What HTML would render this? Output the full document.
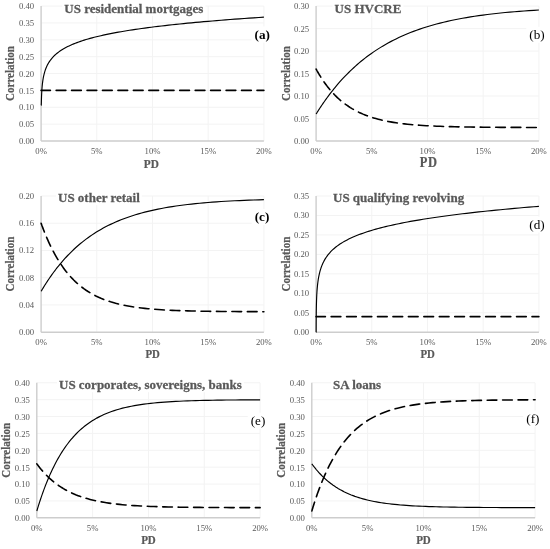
<!DOCTYPE html>
<html><head><meta charset="utf-8"><title>Correlation vs PD</title>
<style>html,body{margin:0;padding:0;background:#fff}svg{display:block}text{font-family:"Liberation Serif",serif}.tk{font-size:8.7px;fill:#595959}.ti{font-size:13px;font-weight:bold;fill:#595959;stroke:#595959;stroke-width:0.25px}.al{font-size:11px;font-weight:bold;fill:#595959;stroke:#595959;stroke-width:0.2px}.lb{font-size:13.2px;fill:#000}</style></head><body>
<svg width="550" height="549" viewBox="0 0 550 549">
<rect width="550" height="549" fill="#fff"/>
<g id="panel-a">
<line x1="41.10" y1="124.14" x2="263.90" y2="124.14" stroke="#f3f3f3" stroke-width="1"/>
<line x1="41.10" y1="107.28" x2="263.90" y2="107.28" stroke="#f3f3f3" stroke-width="1"/>
<line x1="41.10" y1="90.41" x2="263.90" y2="90.41" stroke="#f3f3f3" stroke-width="1"/>
<line x1="41.10" y1="73.55" x2="263.90" y2="73.55" stroke="#f3f3f3" stroke-width="1"/>
<line x1="41.10" y1="56.69" x2="263.90" y2="56.69" stroke="#f3f3f3" stroke-width="1"/>
<line x1="41.10" y1="39.82" x2="263.90" y2="39.82" stroke="#f3f3f3" stroke-width="1"/>
<line x1="41.10" y1="22.96" x2="263.90" y2="22.96" stroke="#f3f3f3" stroke-width="1"/>
<line x1="41.10" y1="6.10" x2="263.90" y2="6.10" stroke="#f3f3f3" stroke-width="1"/>
<line x1="96.80" y1="6.10" x2="96.80" y2="141.00" stroke="#f3f3f3" stroke-width="1"/>
<line x1="152.50" y1="6.10" x2="152.50" y2="141.00" stroke="#f3f3f3" stroke-width="1"/>
<line x1="208.20" y1="6.10" x2="208.20" y2="141.00" stroke="#f3f3f3" stroke-width="1"/>
<line x1="263.90" y1="6.10" x2="263.90" y2="141.00" stroke="#f3f3f3" stroke-width="1"/>
<line x1="41.10" y1="6.10" x2="41.10" y2="141.00" stroke="#cdcdcd" stroke-width="1.4"/>
<line x1="41.10" y1="141.00" x2="263.90" y2="141.00" stroke="#cdcdcd" stroke-width="1.4"/>
<text class="tk" x="34.20" y="144.10" text-anchor="end">0.00</text>
<text class="tk" x="34.20" y="127.24" text-anchor="end">0.05</text>
<text class="tk" x="34.20" y="110.38" text-anchor="end">0.10</text>
<text class="tk" x="34.20" y="93.51" text-anchor="end">0.15</text>
<text class="tk" x="34.20" y="76.65" text-anchor="end">0.20</text>
<text class="tk" x="34.20" y="59.79" text-anchor="end">0.25</text>
<text class="tk" x="34.20" y="42.92" text-anchor="end">0.30</text>
<text class="tk" x="34.20" y="26.06" text-anchor="end">0.35</text>
<text class="tk" x="34.20" y="9.20" text-anchor="end">0.40</text>
<text class="tk" x="41.10" y="153.75" text-anchor="middle">0%</text>
<text class="tk" x="96.80" y="153.75" text-anchor="middle">5%</text>
<text class="tk" x="152.50" y="153.75" text-anchor="middle">10%</text>
<text class="tk" x="208.20" y="153.75" text-anchor="middle">15%</text>
<text class="tk" x="263.90" y="153.75" text-anchor="middle">20%</text>
<rect x="251.5" y="26.5" width="22" height="16" fill="#fff"/>
<rect x="62.3" y="3.0" width="143.1" height="13" fill="#fff"/>
<text class="ti" transform="translate(64.30,12.80) scale(1,1.03)">US residential mortgages</text>
<text class="al" transform="translate(151.30,167.60) scale(1,1.12)" text-anchor="middle" style="font-size:11.3px;letter-spacing:0px">PD</text>
<text class="al" transform="translate(14.30,73.55) rotate(-90) scale(1,1.12)" text-anchor="middle">Correlation</text>
<path d="M41.10,105.25 L41.10,105.25 L41.11,105.25 L41.13,105.25 L41.16,105.25 L41.20,105.25 L41.25,105.25 L41.33,103.37 L41.42,99.77 L41.53,96.54 L41.66,93.62 L41.80,90.95 L41.98,88.48 L42.17,86.20 L42.39,84.06 L42.63,82.06 L42.90,80.17 L43.19,78.38 L43.51,76.69 L43.86,75.08 L44.24,73.54 L44.65,72.07 L45.09,70.66 L45.55,69.30 L46.05,68.00 L46.59,66.74 L47.15,65.53 L47.75,64.36 L48.38,63.23 L49.05,62.13 L49.75,61.07 L50.49,60.03 L51.27,59.03 L52.08,58.05 L52.93,57.10 L53.82,56.18 L54.75,55.27 L55.72,54.39 L56.73,53.54 L57.78,52.70 L58.87,51.88 L60.00,51.07 L61.17,50.29 L62.39,49.52 L63.65,48.77 L64.95,48.03 L66.30,47.30 L67.69,46.60 L69.12,45.90 L70.61,45.22 L72.14,44.54 L73.71,43.89 L75.33,43.24 L77.00,42.60 L78.72,41.97 L80.49,41.36 L82.30,40.75 L84.16,40.16 L86.08,39.57 L88.04,38.99 L90.06,38.42 L92.12,37.86 L94.24,37.31 L96.41,36.76 L98.63,36.22 L100.90,35.69 L103.23,35.17 L105.61,34.65 L108.04,34.15 L110.53,33.64 L113.07,33.15 L115.67,32.66 L118.33,32.17 L121.04,31.70 L123.80,31.22 L126.62,30.76 L129.50,30.30 L132.44,29.84 L135.43,29.39 L138.49,28.95 L141.60,28.51 L144.77,28.07 L148.00,27.64 L151.29,27.22 L154.64,26.79 L158.04,26.38 L161.51,25.96 L165.05,25.56 L168.64,25.15 L172.29,24.75 L176.01,24.36 L179.79,23.96 L183.63,23.58 L187.53,23.19 L191.50,22.81 L195.53,22.43 L199.63,22.06 L203.79,21.69 L208.02,21.32 L212.31,20.96 L216.66,20.60 L221.09,20.24 L225.57,19.89 L230.13,19.54 L234.75,19.19 L239.44,18.84 L244.19,18.50 L249.02,18.16 L253.91,17.83 L258.87,17.49 L263.90,17.16" fill="none" stroke="#000" stroke-width="1.15" stroke-linejoin="round"/>
<path d="M41.10,90.41 L41.10,90.41 L41.11,90.41 L41.13,90.41 L41.16,90.41 L41.20,90.41 L41.25,90.41 L41.33,90.41 L41.42,90.41 L41.53,90.41 L41.66,90.41 L41.80,90.41 L41.98,90.41 L42.17,90.41 L42.39,90.41 L42.63,90.41 L42.90,90.41 L43.19,90.41 L43.51,90.41 L43.86,90.41 L44.24,90.41 L44.65,90.41 L45.09,90.41 L45.55,90.41 L46.05,90.41 L46.59,90.41 L47.15,90.41 L47.75,90.41 L48.38,90.41 L49.05,90.41 L49.75,90.41 L50.49,90.41 L51.27,90.41 L52.08,90.41 L52.93,90.41 L53.82,90.41 L54.75,90.41 L55.72,90.41 L56.73,90.41 L57.78,90.41 L58.87,90.41 L60.00,90.41 L61.17,90.41 L62.39,90.41 L63.65,90.41 L64.95,90.41 L66.30,90.41 L67.69,90.41 L69.12,90.41 L70.61,90.41 L72.14,90.41 L73.71,90.41 L75.33,90.41 L77.00,90.41 L78.72,90.41 L80.49,90.41 L82.30,90.41 L84.16,90.41 L86.08,90.41 L88.04,90.41 L90.06,90.41 L92.12,90.41 L94.24,90.41 L96.41,90.41 L98.63,90.41 L100.90,90.41 L103.23,90.41 L105.61,90.41 L108.04,90.41 L110.53,90.41 L113.07,90.41 L115.67,90.41 L118.33,90.41 L121.04,90.41 L123.80,90.41 L126.62,90.41 L129.50,90.41 L132.44,90.41 L135.43,90.41 L138.49,90.41 L141.60,90.41 L144.77,90.41 L148.00,90.41 L151.29,90.41 L154.64,90.41 L158.04,90.41 L161.51,90.41 L165.05,90.41 L168.64,90.41 L172.29,90.41 L176.01,90.41 L179.79,90.41 L183.63,90.41 L187.53,90.41 L191.50,90.41 L195.53,90.41 L199.63,90.41 L203.79,90.41 L208.02,90.41 L212.31,90.41 L216.66,90.41 L221.09,90.41 L225.57,90.41 L230.13,90.41 L234.75,90.41 L239.44,90.41 L244.19,90.41 L249.02,90.41 L253.91,90.41 L258.87,90.41 L263.90,90.41" fill="none" stroke="#000" stroke-width="1.6" stroke-dasharray="9.7 5.75" stroke-dashoffset="0.4" stroke-linecap="round" stroke-linejoin="round"/>
<text class="lb" x="254.50" y="38.50" font-weight="bold">(a)</text>
</g>
<g id="panel-b">
<line x1="316.10" y1="118.52" x2="538.90" y2="118.52" stroke="#f3f3f3" stroke-width="1"/>
<line x1="316.10" y1="96.03" x2="538.90" y2="96.03" stroke="#f3f3f3" stroke-width="1"/>
<line x1="316.10" y1="73.55" x2="538.90" y2="73.55" stroke="#f3f3f3" stroke-width="1"/>
<line x1="316.10" y1="51.07" x2="538.90" y2="51.07" stroke="#f3f3f3" stroke-width="1"/>
<line x1="316.10" y1="28.58" x2="538.90" y2="28.58" stroke="#f3f3f3" stroke-width="1"/>
<line x1="316.10" y1="6.10" x2="538.90" y2="6.10" stroke="#f3f3f3" stroke-width="1"/>
<line x1="371.80" y1="6.10" x2="371.80" y2="141.00" stroke="#f3f3f3" stroke-width="1"/>
<line x1="427.50" y1="6.10" x2="427.50" y2="141.00" stroke="#f3f3f3" stroke-width="1"/>
<line x1="483.20" y1="6.10" x2="483.20" y2="141.00" stroke="#f3f3f3" stroke-width="1"/>
<line x1="538.90" y1="6.10" x2="538.90" y2="141.00" stroke="#f3f3f3" stroke-width="1"/>
<line x1="316.10" y1="6.10" x2="316.10" y2="141.00" stroke="#cdcdcd" stroke-width="1.4"/>
<line x1="316.10" y1="141.00" x2="538.90" y2="141.00" stroke="#cdcdcd" stroke-width="1.4"/>
<text class="tk" x="309.20" y="144.10" text-anchor="end">0.00</text>
<text class="tk" x="309.20" y="121.62" text-anchor="end">0.05</text>
<text class="tk" x="309.20" y="99.13" text-anchor="end">0.10</text>
<text class="tk" x="309.20" y="76.65" text-anchor="end">0.15</text>
<text class="tk" x="309.20" y="54.17" text-anchor="end">0.20</text>
<text class="tk" x="309.20" y="31.68" text-anchor="end">0.25</text>
<text class="tk" x="309.20" y="9.20" text-anchor="end">0.30</text>
<text class="tk" x="316.10" y="153.85" text-anchor="middle">0%</text>
<text class="tk" x="371.80" y="153.85" text-anchor="middle">5%</text>
<text class="tk" x="427.50" y="153.85" text-anchor="middle">10%</text>
<text class="tk" x="483.20" y="153.85" text-anchor="middle">15%</text>
<text class="tk" x="538.90" y="153.85" text-anchor="middle">20%</text>
<rect x="526.3" y="26.8" width="22" height="16" fill="#fff"/>
<rect x="332.6" y="2.9" width="70.8" height="13" fill="#fff"/>
<text class="ti" transform="translate(334.60,12.70) scale(1,1.03)">US HVCRE</text>
<text class="al" transform="translate(428.70,167.00) scale(1,1.12)" text-anchor="middle" style="font-size:12.5px;letter-spacing:0.7px">PD</text>
<text class="al" transform="translate(289.70,73.55) rotate(-90) scale(1,1.12)" text-anchor="middle">Correlation</text>
<path d="M316.10,114.02 L316.10,114.02 L316.11,114.00 L316.13,113.98 L316.16,113.93 L316.20,113.86 L316.25,113.77 L316.33,113.65 L316.42,113.51 L316.53,113.34 L316.66,113.13 L316.80,112.89 L316.98,112.62 L317.17,112.31 L317.39,111.97 L317.63,111.59 L317.90,111.17 L318.19,110.71 L318.51,110.21 L318.86,109.67 L319.24,109.09 L319.65,108.46 L320.09,107.80 L320.55,107.09 L321.05,106.34 L321.59,105.55 L322.15,104.71 L322.75,103.84 L323.38,102.92 L324.05,101.96 L324.75,100.96 L325.49,99.92 L326.27,98.84 L327.08,97.73 L327.93,96.57 L328.82,95.38 L329.75,94.15 L330.72,92.89 L331.73,91.60 L332.78,90.27 L333.87,88.92 L335.00,87.53 L336.17,86.12 L337.39,84.69 L338.65,83.23 L339.95,81.74 L341.30,80.24 L342.69,78.72 L344.12,77.18 L345.61,75.63 L347.14,74.06 L348.71,72.48 L350.33,70.90 L352.00,69.31 L353.72,67.71 L355.49,66.11 L357.30,64.51 L359.16,62.91 L361.08,61.31 L363.04,59.72 L365.06,58.13 L367.12,56.56 L369.24,54.99 L371.41,53.43 L373.63,51.89 L375.90,50.37 L378.23,48.86 L380.61,47.37 L383.04,45.90 L385.53,44.45 L388.07,43.02 L390.67,41.62 L393.33,40.25 L396.04,38.89 L398.80,37.57 L401.62,36.27 L404.50,35.01 L407.44,33.77 L410.43,32.56 L413.49,31.38 L416.60,30.24 L419.77,29.13 L423.00,28.04 L426.29,26.99 L429.64,25.98 L433.04,24.99 L436.51,24.04 L440.05,23.12 L443.64,22.23 L447.29,21.38 L451.01,20.56 L454.79,19.76 L458.63,19.00 L462.53,18.27 L466.50,17.58 L470.53,16.91 L474.63,16.27 L478.79,15.66 L483.02,15.07 L487.31,14.52 L491.66,13.99 L496.09,13.48 L500.57,13.01 L505.13,12.55 L509.75,12.12 L514.44,11.72 L519.19,11.33 L524.02,10.97 L528.91,10.63 L533.87,10.31 L538.90,10.00" fill="none" stroke="#000" stroke-width="1.15" stroke-linejoin="round"/>
<path d="M316.10,69.05 L316.10,69.06 L316.11,69.07 L316.13,69.10 L316.16,69.16 L316.20,69.23 L316.25,69.34 L316.33,69.47 L316.42,69.63 L316.53,69.83 L316.66,70.06 L316.80,70.33 L316.98,70.64 L317.17,70.99 L317.39,71.37 L317.63,71.80 L317.90,72.26 L318.19,72.77 L318.51,73.32 L318.86,73.91 L319.24,74.55 L319.65,75.22 L320.09,75.93 L320.55,76.69 L321.05,77.48 L321.59,78.31 L322.15,79.17 L322.75,80.08 L323.38,81.01 L324.05,81.98 L324.75,82.97 L325.49,83.99 L326.27,85.04 L327.08,86.11 L327.93,87.20 L328.82,88.32 L329.75,89.44 L330.72,90.58 L331.73,91.73 L332.78,92.89 L333.87,94.06 L335.00,95.23 L336.17,96.39 L337.39,97.56 L338.65,98.72 L339.95,99.88 L341.30,101.02 L342.69,102.16 L344.12,103.27 L345.61,104.38 L347.14,105.46 L348.71,106.53 L350.33,107.57 L352.00,108.59 L353.72,109.58 L355.49,110.55 L357.30,111.49 L359.16,112.40 L361.08,113.28 L363.04,114.13 L365.06,114.95 L367.12,115.74 L369.24,116.50 L371.41,117.23 L373.63,117.92 L375.90,118.58 L378.23,119.21 L380.61,119.81 L383.04,120.37 L385.53,120.91 L388.07,121.42 L390.67,121.90 L393.33,122.34 L396.04,122.77 L398.80,123.16 L401.62,123.53 L404.50,123.87 L407.44,124.19 L410.43,124.49 L413.49,124.77 L416.60,125.02 L419.77,125.26 L423.00,125.48 L426.29,125.68 L429.64,125.86 L433.04,126.03 L436.51,126.18 L440.05,126.32 L443.64,126.45 L447.29,126.56 L451.01,126.67 L454.79,126.76 L458.63,126.85 L462.53,126.92 L466.50,126.99 L470.53,127.05 L474.63,127.11 L478.79,127.16 L483.02,127.20 L487.31,127.24 L491.66,127.27 L496.09,127.31 L500.57,127.33 L505.13,127.36 L509.75,127.38 L514.44,127.40 L519.19,127.41 L524.02,127.42 L528.91,127.44 L533.87,127.45 L538.90,127.46" fill="none" stroke="#000" stroke-width="1.6" stroke-dasharray="9.7 5.75" stroke-dashoffset="0.4" stroke-linecap="round" stroke-linejoin="round"/>
<text class="lb" x="529.30" y="38.80">(b)</text>
</g>
<g id="panel-c">
<line x1="41.10" y1="304.96" x2="263.90" y2="304.96" stroke="#f3f3f3" stroke-width="1"/>
<line x1="41.10" y1="277.72" x2="263.90" y2="277.72" stroke="#f3f3f3" stroke-width="1"/>
<line x1="41.10" y1="250.48" x2="263.90" y2="250.48" stroke="#f3f3f3" stroke-width="1"/>
<line x1="41.10" y1="223.24" x2="263.90" y2="223.24" stroke="#f3f3f3" stroke-width="1"/>
<line x1="41.10" y1="196.00" x2="263.90" y2="196.00" stroke="#f3f3f3" stroke-width="1"/>
<line x1="96.80" y1="196.00" x2="96.80" y2="332.20" stroke="#f3f3f3" stroke-width="1"/>
<line x1="152.50" y1="196.00" x2="152.50" y2="332.20" stroke="#f3f3f3" stroke-width="1"/>
<line x1="208.20" y1="196.00" x2="208.20" y2="332.20" stroke="#f3f3f3" stroke-width="1"/>
<line x1="263.90" y1="196.00" x2="263.90" y2="332.20" stroke="#f3f3f3" stroke-width="1"/>
<line x1="41.10" y1="196.00" x2="41.10" y2="332.20" stroke="#cdcdcd" stroke-width="1.4"/>
<line x1="41.10" y1="332.20" x2="263.90" y2="332.20" stroke="#cdcdcd" stroke-width="1.4"/>
<text class="tk" x="34.20" y="335.10" text-anchor="end">0.00</text>
<text class="tk" x="34.20" y="307.86" text-anchor="end">0.04</text>
<text class="tk" x="34.20" y="280.62" text-anchor="end">0.08</text>
<text class="tk" x="34.20" y="253.38" text-anchor="end">0.12</text>
<text class="tk" x="34.20" y="226.14" text-anchor="end">0.16</text>
<text class="tk" x="34.20" y="198.90" text-anchor="end">0.20</text>
<text class="tk" x="41.10" y="344.70" text-anchor="middle">0%</text>
<text class="tk" x="96.80" y="344.70" text-anchor="middle">5%</text>
<text class="tk" x="152.50" y="344.70" text-anchor="middle">10%</text>
<text class="tk" x="208.20" y="344.70" text-anchor="middle">15%</text>
<text class="tk" x="263.90" y="344.70" text-anchor="middle">20%</text>
<rect x="251.7" y="209.0" width="22" height="16" fill="#fff"/>
<rect x="56.0" y="192.2" width="85.8" height="13" fill="#fff"/>
<text class="ti" transform="translate(58.00,202.00) scale(1,1.03)">US other retail</text>
<text class="al" transform="translate(152.70,357.50) scale(1,1.12)" text-anchor="middle" style="font-size:10.8px;letter-spacing:0px">PD</text>
<text class="al" transform="translate(14.30,264.10) rotate(-90) scale(1,1.12)" text-anchor="middle">Correlation</text>
<path d="M41.10,291.34 L41.10,291.34 L41.11,291.32 L41.13,291.29 L41.16,291.24 L41.20,291.17 L41.25,291.08 L41.33,290.95 L41.42,290.80 L41.53,290.62 L41.66,290.40 L41.80,290.15 L41.98,289.86 L42.17,289.54 L42.39,289.18 L42.63,288.77 L42.90,288.33 L43.19,287.85 L43.51,287.33 L43.86,286.76 L44.24,286.15 L44.65,285.50 L45.09,284.80 L45.55,284.07 L46.05,283.29 L46.59,282.46 L47.15,281.60 L47.75,280.69 L48.38,279.74 L49.05,278.76 L49.75,277.73 L50.49,276.66 L51.27,275.56 L52.08,274.42 L52.93,273.24 L53.82,272.03 L54.75,270.79 L55.72,269.52 L56.73,268.22 L57.78,266.89 L58.87,265.54 L60.00,264.16 L61.17,262.76 L62.39,261.34 L63.65,259.91 L64.95,258.46 L66.30,256.99 L67.69,255.51 L69.12,254.03 L70.61,252.54 L72.14,251.04 L73.71,249.54 L75.33,248.04 L77.00,246.54 L78.72,245.05 L80.49,243.56 L82.30,242.08 L84.16,240.61 L86.08,239.15 L88.04,237.70 L90.06,236.27 L92.12,234.86 L94.24,233.47 L96.41,232.10 L98.63,230.75 L100.90,229.42 L103.23,228.12 L105.61,226.84 L108.04,225.59 L110.53,224.37 L113.07,223.18 L115.67,222.01 L118.33,220.88 L121.04,219.78 L123.80,218.71 L126.62,217.68 L129.50,216.67 L132.44,215.70 L135.43,214.77 L138.49,213.86 L141.60,212.99 L144.77,212.15 L148.00,211.34 L151.29,210.57 L154.64,209.83 L158.04,209.12 L161.51,208.44 L165.05,207.79 L168.64,207.17 L172.29,206.59 L176.01,206.03 L179.79,205.50 L183.63,204.99 L187.53,204.51 L191.50,204.06 L195.53,203.64 L199.63,203.23 L203.79,202.86 L208.02,202.50 L212.31,202.16 L216.66,201.85 L221.09,201.55 L225.57,201.28 L230.13,201.02 L234.75,200.78 L239.44,200.56 L244.19,200.35 L249.02,200.15 L253.91,199.97 L258.87,199.81 L263.90,199.65" fill="none" stroke="#000" stroke-width="1.15" stroke-linejoin="round"/>
<path d="M41.10,223.24 L41.10,223.24 L41.11,223.27 L41.13,223.32 L41.16,223.40 L41.20,223.51 L41.25,223.67 L41.33,223.87 L41.42,224.12 L41.53,224.42 L41.66,224.77 L41.80,225.18 L41.98,225.64 L42.17,226.17 L42.39,226.75 L42.63,227.39 L42.90,228.10 L43.19,228.87 L43.51,229.70 L43.86,230.60 L44.24,231.56 L44.65,232.58 L45.09,233.66 L45.55,234.80 L46.05,236.00 L46.59,237.26 L47.15,238.57 L47.75,239.93 L48.38,241.35 L49.05,242.81 L49.75,244.32 L50.49,245.87 L51.27,247.45 L52.08,249.08 L52.93,250.73 L53.82,252.41 L54.75,254.12 L55.72,255.84 L56.73,257.59 L57.78,259.34 L58.87,261.11 L60.00,262.88 L61.17,264.65 L62.39,266.41 L63.65,268.17 L64.95,269.92 L66.30,271.66 L67.69,273.37 L69.12,275.07 L70.61,276.74 L72.14,278.38 L73.71,279.99 L75.33,281.57 L77.00,283.11 L78.72,284.62 L80.49,286.09 L82.30,287.51 L84.16,288.89 L86.08,290.22 L88.04,291.51 L90.06,292.76 L92.12,293.95 L94.24,295.10 L96.41,296.19 L98.63,297.24 L100.90,298.25 L103.23,299.20 L105.61,300.11 L108.04,300.96 L110.53,301.78 L113.07,302.54 L115.67,303.27 L118.33,303.95 L121.04,304.59 L123.80,305.18 L126.62,305.74 L129.50,306.26 L132.44,306.75 L135.43,307.20 L138.49,307.62 L141.60,308.00 L144.77,308.36 L148.00,308.69 L151.29,308.99 L154.64,309.27 L158.04,309.52 L161.51,309.76 L165.05,309.97 L168.64,310.16 L172.29,310.33 L176.01,310.49 L179.79,310.64 L183.63,310.76 L187.53,310.88 L191.50,310.98 L195.53,311.08 L199.63,311.16 L203.79,311.24 L208.02,311.30 L212.31,311.36 L216.66,311.41 L221.09,311.46 L225.57,311.50 L230.13,311.54 L234.75,311.57 L239.44,311.60 L244.19,311.62 L249.02,311.64 L253.91,311.66 L258.87,311.68 L263.90,311.69" fill="none" stroke="#000" stroke-width="1.6" stroke-dasharray="9.7 5.75" stroke-dashoffset="0.4" stroke-linecap="round" stroke-linejoin="round"/>
<text class="lb" x="254.70" y="221.00" font-weight="bold">(c)</text>
</g>
<g id="panel-d">
<line x1="316.10" y1="312.74" x2="538.90" y2="312.74" stroke="#f3f3f3" stroke-width="1"/>
<line x1="316.10" y1="293.29" x2="538.90" y2="293.29" stroke="#f3f3f3" stroke-width="1"/>
<line x1="316.10" y1="273.83" x2="538.90" y2="273.83" stroke="#f3f3f3" stroke-width="1"/>
<line x1="316.10" y1="254.37" x2="538.90" y2="254.37" stroke="#f3f3f3" stroke-width="1"/>
<line x1="316.10" y1="234.91" x2="538.90" y2="234.91" stroke="#f3f3f3" stroke-width="1"/>
<line x1="316.10" y1="215.46" x2="538.90" y2="215.46" stroke="#f3f3f3" stroke-width="1"/>
<line x1="316.10" y1="196.00" x2="538.90" y2="196.00" stroke="#f3f3f3" stroke-width="1"/>
<line x1="371.80" y1="196.00" x2="371.80" y2="332.20" stroke="#f3f3f3" stroke-width="1"/>
<line x1="427.50" y1="196.00" x2="427.50" y2="332.20" stroke="#f3f3f3" stroke-width="1"/>
<line x1="483.20" y1="196.00" x2="483.20" y2="332.20" stroke="#f3f3f3" stroke-width="1"/>
<line x1="538.90" y1="196.00" x2="538.90" y2="332.20" stroke="#f3f3f3" stroke-width="1"/>
<line x1="316.10" y1="196.00" x2="316.10" y2="332.20" stroke="#cdcdcd" stroke-width="1.4"/>
<line x1="316.10" y1="332.20" x2="538.90" y2="332.20" stroke="#cdcdcd" stroke-width="1.4"/>
<text class="tk" x="309.20" y="335.10" text-anchor="end">0.00</text>
<text class="tk" x="309.20" y="315.64" text-anchor="end">0.05</text>
<text class="tk" x="309.20" y="296.19" text-anchor="end">0.10</text>
<text class="tk" x="309.20" y="276.73" text-anchor="end">0.15</text>
<text class="tk" x="309.20" y="257.27" text-anchor="end">0.20</text>
<text class="tk" x="309.20" y="237.81" text-anchor="end">0.25</text>
<text class="tk" x="309.20" y="218.36" text-anchor="end">0.30</text>
<text class="tk" x="309.20" y="198.90" text-anchor="end">0.35</text>
<text class="tk" x="316.10" y="344.70" text-anchor="middle">0%</text>
<text class="tk" x="371.80" y="344.70" text-anchor="middle">5%</text>
<text class="tk" x="427.50" y="344.70" text-anchor="middle">10%</text>
<text class="tk" x="483.20" y="344.70" text-anchor="middle">15%</text>
<text class="tk" x="538.90" y="344.70" text-anchor="middle">20%</text>
<rect x="526.3" y="216.6" width="22" height="16" fill="#fff"/>
<rect x="331.0" y="192.2" width="135.2" height="13" fill="#fff"/>
<text class="ti" transform="translate(333.00,202.00) scale(1,1.03)">US qualifying revolving</text>
<text class="al" transform="translate(427.70,357.50) scale(1,1.12)" text-anchor="middle" style="font-size:10.8px;letter-spacing:0px">PD</text>
<text class="al" transform="translate(289.70,264.10) rotate(-90) scale(1,1.12)" text-anchor="middle">Correlation</text>
<path d="M316.10,332.20 L316.10,332.20 L316.11,332.20 L316.13,332.18 L316.16,324.41 L316.20,318.16 L316.25,312.89 L316.33,308.33 L316.42,304.29 L316.53,300.66 L316.66,297.35 L316.80,294.32 L316.98,291.51 L317.17,288.90 L317.39,286.45 L317.63,284.15 L317.90,281.97 L318.19,279.91 L318.51,277.95 L318.86,276.07 L319.24,274.28 L319.65,272.57 L320.09,270.92 L320.55,269.34 L321.05,267.81 L321.59,266.34 L322.15,264.91 L322.75,263.53 L323.38,262.20 L324.05,260.90 L324.75,259.64 L325.49,258.42 L326.27,257.23 L327.08,256.07 L327.93,254.94 L328.82,253.84 L329.75,252.77 L330.72,251.72 L331.73,250.69 L332.78,249.69 L333.87,248.71 L335.00,247.75 L336.17,246.80 L337.39,245.88 L338.65,244.98 L339.95,244.09 L341.30,243.22 L342.69,242.37 L344.12,241.53 L345.61,240.70 L347.14,239.90 L348.71,239.10 L350.33,238.32 L352.00,237.55 L353.72,236.79 L355.49,236.04 L357.30,235.31 L359.16,234.58 L361.08,233.87 L363.04,233.17 L365.06,232.48 L367.12,231.79 L369.24,231.12 L371.41,230.45 L373.63,229.80 L375.90,229.15 L378.23,228.52 L380.61,227.89 L383.04,227.26 L385.53,226.65 L388.07,226.04 L390.67,225.44 L393.33,224.85 L396.04,224.27 L398.80,223.69 L401.62,223.12 L404.50,222.55 L407.44,221.99 L410.43,221.44 L413.49,220.89 L416.60,220.35 L419.77,219.81 L423.00,219.28 L426.29,218.76 L429.64,218.24 L433.04,217.73 L436.51,217.22 L440.05,216.72 L443.64,216.22 L447.29,215.72 L451.01,215.23 L454.79,214.75 L458.63,214.27 L462.53,213.79 L466.50,213.32 L470.53,212.85 L474.63,212.39 L478.79,211.93 L483.02,211.48 L487.31,211.03 L491.66,210.58 L496.09,210.14 L500.57,209.70 L505.13,209.26 L509.75,208.83 L514.44,208.40 L519.19,207.98 L524.02,207.55 L528.91,207.13 L533.87,206.72 L538.90,206.31" fill="none" stroke="#000" stroke-width="1.15" stroke-linejoin="round"/>
<path d="M316.10,316.63 L316.10,316.63 L316.11,316.63 L316.13,316.63 L316.16,316.63 L316.20,316.63 L316.25,316.63 L316.33,316.63 L316.42,316.63 L316.53,316.63 L316.66,316.63 L316.80,316.63 L316.98,316.63 L317.17,316.63 L317.39,316.63 L317.63,316.63 L317.90,316.63 L318.19,316.63 L318.51,316.63 L318.86,316.63 L319.24,316.63 L319.65,316.63 L320.09,316.63 L320.55,316.63 L321.05,316.63 L321.59,316.63 L322.15,316.63 L322.75,316.63 L323.38,316.63 L324.05,316.63 L324.75,316.63 L325.49,316.63 L326.27,316.63 L327.08,316.63 L327.93,316.63 L328.82,316.63 L329.75,316.63 L330.72,316.63 L331.73,316.63 L332.78,316.63 L333.87,316.63 L335.00,316.63 L336.17,316.63 L337.39,316.63 L338.65,316.63 L339.95,316.63 L341.30,316.63 L342.69,316.63 L344.12,316.63 L345.61,316.63 L347.14,316.63 L348.71,316.63 L350.33,316.63 L352.00,316.63 L353.72,316.63 L355.49,316.63 L357.30,316.63 L359.16,316.63 L361.08,316.63 L363.04,316.63 L365.06,316.63 L367.12,316.63 L369.24,316.63 L371.41,316.63 L373.63,316.63 L375.90,316.63 L378.23,316.63 L380.61,316.63 L383.04,316.63 L385.53,316.63 L388.07,316.63 L390.67,316.63 L393.33,316.63 L396.04,316.63 L398.80,316.63 L401.62,316.63 L404.50,316.63 L407.44,316.63 L410.43,316.63 L413.49,316.63 L416.60,316.63 L419.77,316.63 L423.00,316.63 L426.29,316.63 L429.64,316.63 L433.04,316.63 L436.51,316.63 L440.05,316.63 L443.64,316.63 L447.29,316.63 L451.01,316.63 L454.79,316.63 L458.63,316.63 L462.53,316.63 L466.50,316.63 L470.53,316.63 L474.63,316.63 L478.79,316.63 L483.02,316.63 L487.31,316.63 L491.66,316.63 L496.09,316.63 L500.57,316.63 L505.13,316.63 L509.75,316.63 L514.44,316.63 L519.19,316.63 L524.02,316.63 L528.91,316.63 L533.87,316.63 L538.90,316.63" fill="none" stroke="#000" stroke-width="1.6" stroke-dasharray="9.7 5.75" stroke-dashoffset="0.4" stroke-linecap="round" stroke-linejoin="round"/>
<text class="lb" x="529.30" y="228.60">(d)</text>
</g>
<g id="panel-e">
<line x1="36.80" y1="500.92" x2="260.10" y2="500.92" stroke="#f3f3f3" stroke-width="1"/>
<line x1="36.80" y1="484.05" x2="260.10" y2="484.05" stroke="#f3f3f3" stroke-width="1"/>
<line x1="36.80" y1="467.17" x2="260.10" y2="467.17" stroke="#f3f3f3" stroke-width="1"/>
<line x1="36.80" y1="450.30" x2="260.10" y2="450.30" stroke="#f3f3f3" stroke-width="1"/>
<line x1="36.80" y1="433.42" x2="260.10" y2="433.42" stroke="#f3f3f3" stroke-width="1"/>
<line x1="36.80" y1="416.55" x2="260.10" y2="416.55" stroke="#f3f3f3" stroke-width="1"/>
<line x1="36.80" y1="399.68" x2="260.10" y2="399.68" stroke="#f3f3f3" stroke-width="1"/>
<line x1="36.80" y1="382.80" x2="260.10" y2="382.80" stroke="#f3f3f3" stroke-width="1"/>
<line x1="92.62" y1="382.80" x2="92.62" y2="517.80" stroke="#f3f3f3" stroke-width="1"/>
<line x1="148.45" y1="382.80" x2="148.45" y2="517.80" stroke="#f3f3f3" stroke-width="1"/>
<line x1="204.28" y1="382.80" x2="204.28" y2="517.80" stroke="#f3f3f3" stroke-width="1"/>
<line x1="260.10" y1="382.80" x2="260.10" y2="517.80" stroke="#f3f3f3" stroke-width="1"/>
<line x1="36.80" y1="382.80" x2="36.80" y2="517.80" stroke="#cdcdcd" stroke-width="1.4"/>
<line x1="36.80" y1="517.80" x2="260.10" y2="517.80" stroke="#cdcdcd" stroke-width="1.4"/>
<text class="tk" x="29.90" y="521.20" text-anchor="end">0.00</text>
<text class="tk" x="29.90" y="504.32" text-anchor="end">0.05</text>
<text class="tk" x="29.90" y="487.45" text-anchor="end">0.10</text>
<text class="tk" x="29.90" y="470.57" text-anchor="end">0.15</text>
<text class="tk" x="29.90" y="453.70" text-anchor="end">0.20</text>
<text class="tk" x="29.90" y="436.82" text-anchor="end">0.25</text>
<text class="tk" x="29.90" y="419.95" text-anchor="end">0.30</text>
<text class="tk" x="29.90" y="403.07" text-anchor="end">0.35</text>
<text class="tk" x="29.90" y="386.20" text-anchor="end">0.40</text>
<text class="tk" x="36.80" y="531.00" text-anchor="middle">0%</text>
<text class="tk" x="92.62" y="531.00" text-anchor="middle">5%</text>
<text class="tk" x="148.45" y="531.00" text-anchor="middle">10%</text>
<text class="tk" x="204.28" y="531.00" text-anchor="middle">15%</text>
<text class="tk" x="260.10" y="531.00" text-anchor="middle">20%</text>
<rect x="247.7" y="412.7" width="22" height="16" fill="#fff"/>
<rect x="57.0" y="379.2" width="186.9" height="13" fill="#fff"/>
<text class="ti" transform="translate(59.00,389.00) scale(1,1.03)">US corporates, sovereigns, banks</text>
<text class="al" transform="translate(148.45,544.10) scale(1,1.12)" text-anchor="middle" style="font-size:11.0px;letter-spacing:0px">PD</text>
<text class="al" transform="translate(10.20,450.30) rotate(-90) scale(1,1.12)" text-anchor="middle">Correlation</text>
<path d="M36.80,511.05 L36.80,511.04 L36.81,511.02 L36.83,510.96 L36.86,510.86 L36.90,510.72 L36.96,510.53 L37.03,510.29 L37.12,509.99 L37.23,509.63 L37.36,509.21 L37.51,508.72 L37.68,508.16 L37.87,507.52 L38.09,506.82 L38.33,506.04 L38.60,505.19 L38.90,504.26 L39.22,503.25 L39.57,502.17 L39.95,501.01 L40.36,499.78 L40.79,498.47 L41.26,497.09 L41.77,495.63 L42.30,494.11 L42.87,492.52 L43.47,490.86 L44.10,489.14 L44.77,487.36 L45.47,485.53 L46.21,483.64 L46.99,481.70 L47.81,479.72 L48.66,477.70 L49.55,475.64 L50.48,473.55 L51.45,471.43 L52.46,469.29 L53.51,467.13 L54.61,464.95 L55.74,462.77 L56.92,460.58 L58.13,458.39 L59.40,456.21 L60.70,454.04 L62.05,451.88 L63.45,449.74 L64.89,447.62 L66.37,445.53 L67.91,443.47 L69.48,441.45 L71.11,439.46 L72.78,437.51 L74.50,435.61 L76.27,433.75 L78.09,431.94 L79.96,430.18 L81.88,428.47 L83.85,426.82 L85.87,425.23 L87.94,423.69 L90.06,422.21 L92.23,420.78 L94.46,419.42 L96.74,418.12 L99.07,416.87 L101.45,415.68 L103.89,414.55 L106.39,413.48 L108.94,412.46 L111.54,411.50 L114.20,410.59 L116.92,409.74 L119.69,408.94 L122.52,408.18 L125.40,407.48 L128.34,406.82 L131.35,406.20 L134.41,405.63 L137.52,405.10 L140.70,404.61 L143.94,404.15 L147.23,403.73 L150.59,403.34 L154.01,402.98 L157.48,402.65 L161.02,402.35 L164.62,402.08 L168.29,401.83 L172.01,401.60 L175.80,401.39 L179.65,401.21 L183.56,401.04 L187.54,400.88 L191.58,400.75 L195.69,400.62 L199.86,400.51 L204.09,400.41 L208.39,400.32 L212.76,400.24 L217.19,400.17 L221.69,400.11 L226.25,400.05 L230.88,400.00 L235.58,399.96 L240.35,399.92 L245.19,399.89 L250.09,399.86 L255.06,399.83 L260.10,399.81" fill="none" stroke="#000" stroke-width="1.15" stroke-linejoin="round"/>
<path d="M36.80,463.80 L36.80,463.80 L36.81,463.81 L36.83,463.84 L36.86,463.88 L36.90,463.94 L36.96,464.01 L37.03,464.11 L37.12,464.24 L37.23,464.38 L37.36,464.56 L37.51,464.76 L37.68,464.99 L37.87,465.25 L38.09,465.54 L38.33,465.86 L38.60,466.21 L38.90,466.59 L39.22,467.00 L39.57,467.45 L39.95,467.92 L40.36,468.43 L40.79,468.96 L41.26,469.53 L41.77,470.12 L42.30,470.75 L42.87,471.40 L43.47,472.07 L44.10,472.77 L44.77,473.50 L45.47,474.25 L46.21,475.01 L46.99,475.80 L47.81,476.60 L48.66,477.42 L49.55,478.26 L50.48,479.10 L51.45,479.96 L52.46,480.82 L53.51,481.69 L54.61,482.57 L55.74,483.44 L56.92,484.32 L58.13,485.20 L59.40,486.07 L60.70,486.94 L62.05,487.79 L63.45,488.65 L64.89,489.49 L66.37,490.31 L67.91,491.13 L69.48,491.93 L71.11,492.71 L72.78,493.47 L74.50,494.22 L76.27,494.95 L78.09,495.65 L79.96,496.34 L81.88,497.00 L83.85,497.64 L85.87,498.25 L87.94,498.84 L90.06,499.41 L92.23,499.96 L94.46,500.48 L96.74,500.97 L99.07,501.45 L101.45,501.89 L103.89,502.32 L106.39,502.72 L108.94,503.10 L111.54,503.46 L114.20,503.80 L116.92,504.11 L119.69,504.41 L122.52,504.69 L125.40,504.95 L128.34,505.19 L131.35,505.41 L134.41,505.62 L137.52,505.81 L140.70,505.99 L143.94,506.15 L147.23,506.30 L150.59,506.44 L154.01,506.56 L157.48,506.68 L161.02,506.78 L164.62,506.88 L168.29,506.96 L172.01,507.04 L175.80,507.11 L179.65,507.18 L183.56,507.23 L187.54,507.29 L191.58,507.33 L195.69,507.37 L199.86,507.41 L204.09,507.44 L208.39,507.47 L212.76,507.50 L217.19,507.52 L221.69,507.54 L226.25,507.56 L230.88,507.58 L235.58,507.59 L240.35,507.60 L245.19,507.61 L250.09,507.62 L255.06,507.63 L260.10,507.63" fill="none" stroke="#000" stroke-width="1.6" stroke-dasharray="9.7 5.75" stroke-dashoffset="0.4" stroke-linecap="round" stroke-linejoin="round"/>
<text class="lb" x="250.70" y="424.70">(e)</text>
</g>
<g id="panel-f">
<line x1="311.80" y1="500.92" x2="535.10" y2="500.92" stroke="#f3f3f3" stroke-width="1"/>
<line x1="311.80" y1="484.05" x2="535.10" y2="484.05" stroke="#f3f3f3" stroke-width="1"/>
<line x1="311.80" y1="467.17" x2="535.10" y2="467.17" stroke="#f3f3f3" stroke-width="1"/>
<line x1="311.80" y1="450.30" x2="535.10" y2="450.30" stroke="#f3f3f3" stroke-width="1"/>
<line x1="311.80" y1="433.42" x2="535.10" y2="433.42" stroke="#f3f3f3" stroke-width="1"/>
<line x1="311.80" y1="416.55" x2="535.10" y2="416.55" stroke="#f3f3f3" stroke-width="1"/>
<line x1="311.80" y1="399.68" x2="535.10" y2="399.68" stroke="#f3f3f3" stroke-width="1"/>
<line x1="311.80" y1="382.80" x2="535.10" y2="382.80" stroke="#f3f3f3" stroke-width="1"/>
<line x1="367.62" y1="382.80" x2="367.62" y2="517.80" stroke="#f3f3f3" stroke-width="1"/>
<line x1="423.45" y1="382.80" x2="423.45" y2="517.80" stroke="#f3f3f3" stroke-width="1"/>
<line x1="479.28" y1="382.80" x2="479.28" y2="517.80" stroke="#f3f3f3" stroke-width="1"/>
<line x1="535.10" y1="382.80" x2="535.10" y2="517.80" stroke="#f3f3f3" stroke-width="1"/>
<line x1="311.80" y1="382.80" x2="311.80" y2="517.80" stroke="#cdcdcd" stroke-width="1.4"/>
<line x1="311.80" y1="517.80" x2="535.10" y2="517.80" stroke="#cdcdcd" stroke-width="1.4"/>
<text class="tk" x="304.90" y="521.20" text-anchor="end">0.00</text>
<text class="tk" x="304.90" y="504.32" text-anchor="end">0.05</text>
<text class="tk" x="304.90" y="487.45" text-anchor="end">0.10</text>
<text class="tk" x="304.90" y="470.57" text-anchor="end">0.15</text>
<text class="tk" x="304.90" y="453.70" text-anchor="end">0.20</text>
<text class="tk" x="304.90" y="436.82" text-anchor="end">0.25</text>
<text class="tk" x="304.90" y="419.95" text-anchor="end">0.30</text>
<text class="tk" x="304.90" y="403.07" text-anchor="end">0.35</text>
<text class="tk" x="304.90" y="386.20" text-anchor="end">0.40</text>
<text class="tk" x="311.80" y="531.00" text-anchor="middle">0%</text>
<text class="tk" x="367.62" y="531.00" text-anchor="middle">5%</text>
<text class="tk" x="423.45" y="531.00" text-anchor="middle">10%</text>
<text class="tk" x="479.28" y="531.00" text-anchor="middle">15%</text>
<text class="tk" x="535.10" y="531.00" text-anchor="middle">20%</text>
<rect x="523.3" y="410.7" width="22" height="16" fill="#fff"/>
<rect x="331.0" y="379.0" width="52.1" height="13" fill="#fff"/>
<text class="ti" transform="translate(333.00,388.80) scale(1,1.03)">SA loans</text>
<text class="al" transform="translate(423.45,544.10) scale(1,1.12)" text-anchor="middle" style="font-size:11.0px;letter-spacing:0px">PD</text>
<text class="al" transform="translate(285.20,450.30) rotate(-90) scale(1,1.12)" text-anchor="middle">Correlation</text>
<path d="M311.80,463.80 L311.80,463.80 L311.81,463.81 L311.83,463.84 L311.86,463.88 L311.90,463.94 L311.96,464.01 L312.03,464.11 L312.12,464.24 L312.23,464.38 L312.36,464.56 L312.51,464.76 L312.68,464.99 L312.87,465.25 L313.09,465.54 L313.33,465.86 L313.60,466.21 L313.90,466.59 L314.22,467.00 L314.57,467.45 L314.95,467.92 L315.36,468.43 L315.79,468.96 L316.26,469.53 L316.77,470.12 L317.30,470.75 L317.87,471.40 L318.47,472.07 L319.10,472.77 L319.77,473.50 L320.47,474.25 L321.21,475.01 L321.99,475.80 L322.81,476.60 L323.66,477.42 L324.55,478.26 L325.48,479.10 L326.45,479.96 L327.46,480.82 L328.51,481.69 L329.61,482.57 L330.74,483.44 L331.92,484.32 L333.13,485.20 L334.40,486.07 L335.70,486.94 L337.05,487.79 L338.45,488.65 L339.89,489.49 L341.37,490.31 L342.91,491.13 L344.48,491.93 L346.11,492.71 L347.78,493.47 L349.50,494.22 L351.27,494.95 L353.09,495.65 L354.96,496.34 L356.88,497.00 L358.85,497.64 L360.87,498.25 L362.94,498.84 L365.06,499.41 L367.23,499.96 L369.46,500.48 L371.74,500.97 L374.07,501.45 L376.45,501.89 L378.89,502.32 L381.39,502.72 L383.94,503.10 L386.54,503.46 L389.20,503.80 L391.92,504.11 L394.69,504.41 L397.52,504.69 L400.40,504.95 L403.34,505.19 L406.35,505.41 L409.41,505.62 L412.52,505.81 L415.70,505.99 L418.94,506.15 L422.23,506.30 L425.59,506.44 L429.01,506.56 L432.48,506.68 L436.02,506.78 L439.62,506.88 L443.29,506.96 L447.01,507.04 L450.80,507.11 L454.65,507.18 L458.56,507.23 L462.54,507.29 L466.58,507.33 L470.69,507.37 L474.86,507.41 L479.09,507.44 L483.39,507.47 L487.76,507.50 L492.19,507.52 L496.69,507.54 L501.25,507.56 L505.88,507.58 L510.58,507.59 L515.35,507.60 L520.19,507.61 L525.09,507.62 L530.06,507.63 L535.10,507.63" fill="none" stroke="#000" stroke-width="1.15" stroke-linejoin="round"/>
<path d="M311.80,511.05 L311.80,511.04 L311.81,511.02 L311.83,510.96 L311.86,510.86 L311.90,510.72 L311.96,510.53 L312.03,510.29 L312.12,509.99 L312.23,509.63 L312.36,509.21 L312.51,508.72 L312.68,508.16 L312.87,507.52 L313.09,506.82 L313.33,506.04 L313.60,505.19 L313.90,504.26 L314.22,503.25 L314.57,502.17 L314.95,501.01 L315.36,499.78 L315.79,498.47 L316.26,497.09 L316.77,495.63 L317.30,494.11 L317.87,492.52 L318.47,490.86 L319.10,489.14 L319.77,487.36 L320.47,485.53 L321.21,483.64 L321.99,481.70 L322.81,479.72 L323.66,477.70 L324.55,475.64 L325.48,473.55 L326.45,471.43 L327.46,469.29 L328.51,467.13 L329.61,464.95 L330.74,462.77 L331.92,460.58 L333.13,458.39 L334.40,456.21 L335.70,454.04 L337.05,451.88 L338.45,449.74 L339.89,447.62 L341.37,445.53 L342.91,443.47 L344.48,441.45 L346.11,439.46 L347.78,437.51 L349.50,435.61 L351.27,433.75 L353.09,431.94 L354.96,430.18 L356.88,428.47 L358.85,426.82 L360.87,425.23 L362.94,423.69 L365.06,422.21 L367.23,420.78 L369.46,419.42 L371.74,418.12 L374.07,416.87 L376.45,415.68 L378.89,414.55 L381.39,413.48 L383.94,412.46 L386.54,411.50 L389.20,410.59 L391.92,409.74 L394.69,408.94 L397.52,408.18 L400.40,407.48 L403.34,406.82 L406.35,406.20 L409.41,405.63 L412.52,405.10 L415.70,404.61 L418.94,404.15 L422.23,403.73 L425.59,403.34 L429.01,402.98 L432.48,402.65 L436.02,402.35 L439.62,402.08 L443.29,401.83 L447.01,401.60 L450.80,401.39 L454.65,401.21 L458.56,401.04 L462.54,400.88 L466.58,400.75 L470.69,400.62 L474.86,400.51 L479.09,400.41 L483.39,400.32 L487.76,400.24 L492.19,400.17 L496.69,400.11 L501.25,400.05 L505.88,400.00 L510.58,399.96 L515.35,399.92 L520.19,399.89 L525.09,399.86 L530.06,399.83 L535.10,399.81" fill="none" stroke="#000" stroke-width="1.6" stroke-dasharray="9.7 5.75" stroke-dashoffset="0.4" stroke-linecap="round" stroke-linejoin="round"/>
<text class="lb" x="526.30" y="422.70">(f)</text>
</g>
</svg></body></html>
